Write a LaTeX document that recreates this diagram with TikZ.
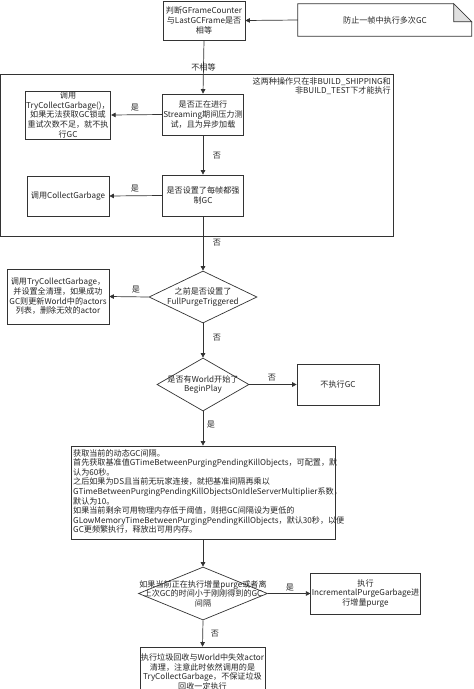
\documentclass[tikz,border=0pt]{standalone}
\usepackage{fontspec}
\setmainfont{Noto Sans CJK SC}
\usetikzlibrary{shapes.geometric,arrows.meta}
\begin{document}
\begin{tikzpicture}[x=1pt,y=-1pt,
  every node/.style={font=\fontsize{8.1}{9.6}\selectfont, text=black!85},
  box/.style={draw=black!80, line width=0.7pt, fill=white, rectangle, inner sep=1pt, align=center},
  dia/.style={draw=black!80, line width=0.7pt, fill=white, diamond, inner sep=0pt},
  txt/.style={align=center, inner sep=0pt},
  lbl/.style={inner sep=0pt},
  arr/.style={draw=black!80, line width=0.7pt, -{Triangle[length=4.5pt,width=4.5pt]}}
]
\useasboundingbox (0,0) rectangle (474,689);
% container
\draw[draw=black!80, line width=0.7pt] (0.5,74) rectangle (393,236);
\node[lbl, anchor=north east, align=right] (clbl) at (391,77) {这两种操作只在非BUILD\_SHIPPING和\\非BUILD\_TEST下才能执行};
% top
\node[box, minimum width=82pt, minimum height=39pt] (n1) at (204,20.5) {判断GFrameCounter\\与LastGCFrame是否\\相等};
\node[minimum width=174pt, minimum height=32pt, inner sep=0pt] (note) at (385,20) {防止一帧中执行多次GC};
\draw[draw=black!80, line width=0.7pt, fill=white] (note.north west) -- ++(156,0) -- ++(18,18) |- (note.south west) -- cycle;
\draw[draw=black!80, line width=0.7pt, fill=black!12] (note.north west) ++(156,0) -- ++(0,18) -- ++(18,0) -- cycle;
\node[lbl] at (note) {防止一帧中执行多次GC};
% boxes
\node[box, minimum width=81pt, minimum height=41pt] (s1) at (203,114.5) {是否正在进行\\Streaming期间压力测\\试，且为异步加载};
\node[box, minimum width=82pt, minimum height=48pt] (l1) at (68,115) {调用\\TryCollectGarbage()，\\如果无法获取GC锁或\\重试次数不足，就不执\\行GC};
\node[box, minimum width=81pt, minimum height=41pt] (s2) at (203,195.5) {是否设置了每帧都强\\制GC};
\node[box, minimum width=82pt, minimum height=40pt] (l2) at (68,196) {调用CollectGarbage};
\node[dia, minimum width=108pt, minimum height=52pt] (d1) at (203,297) {};
\node[txt] at (d1) {之前是否设置了\\FullPurgeTriggered};
\node[box, minimum width=102pt, minimum height=55pt] (l3) at (58,296.5) {调用TryCollectGarbage，\\并设置全清理，如果成功\\GC则更新World中的actors\\列表，删除无效的actor};
\node[dia, minimum width=92pt, minimum height=53pt] (d2) at (203,384.5) {};
\node[txt] at (d2) {是否有World开始了\\BeginPlay};
\node[box, minimum width=82pt, minimum height=41pt] (r2) at (338,384.5) {不执行GC};
\node[box, minimum width=264pt, minimum height=93pt] (big) at (203,492.5) {};
\node[txt, anchor=north west, align=left] at (73,449) {获取当前的动态GC间隔。\\首先获取基准值GTimeBetweenPurgingPendingKillObjects，可配置，默\\认为60秒。\\之后如果为DS且当前无玩家连接，就把基准间隔再乘以\\GTimeBetweenPurgingPendingKillObjectsOnIdleServerMultiplier系数，\\默认为10。\\如果当前剩余可用物理内存低于阈值，则把GC间隔设为更低的\\GLowMemoryTimeBetweenPurgingPendingKillObjects，默认30秒，以便\\GC更频繁执行，释放出可用内存。};
\node[dia, minimum width=129pt, minimum height=53pt] (d3) at (203,593.5) {};
\node[txt] at (d3) {如果当前正在执行增量purge或者离\\上次GC的时间小于刚刚得到的GC\\间隔};
\node[box, minimum width=109pt, minimum height=41pt] (r3) at (365.5,593.5) {执行\\IncrementalPurgeGarbage进\\行增量purge};
\node[box, minimum width=121pt, minimum height=50pt] (b) at (202.5,672) {执行垃圾回收与World中失效actor\\清理，注意此时依然调用的是\\TryCollectGarbage，不保证垃圾\\回收一定执行};
% arrows
\draw[arr] (note.west) -- (n1.east);
\draw[arr] (n1.south) -- (s1.north) node[lbl, pos=0.5] (t1) at (219,68) {不相等};
\draw[arr] (s1.west) -- (l1.east) node[lbl] (t2) at (135,108) {是};
\draw[arr] (s1.south) -- (s2.north) node[lbl] (t3) at (217,156) {否};
\draw[arr] (s2.west) -- (l2.east) node[lbl] (t4) at (135,189) {是};
\draw[arr] (s2.south) -- (d1.north) node[lbl] (t5) at (217,243) {否};
\draw[arr] (d1.west) -- (l3.east) node[lbl] (t6) at (136,290) {是};
\draw[arr] (d1.south) -- (d2.north) node[lbl] (t7) at (217,338) {否};
\draw[arr] (d2.east) -- (r2.west) node[lbl] (t8) at (272,378) {否};
\draw[arr] (d2.south) -- (big.north) node[lbl] (t9) at (211,425) {是};
\draw[arr] (big.south) -- (d3.north);
\draw[arr] (d3.east) -- (r3.west) node[lbl] (t10) at (290,588) {是};
\draw[arr] (d3.south) -- (b.north) node[lbl] (t11) at (215,634) {否};
\end{tikzpicture}
\end{document}
